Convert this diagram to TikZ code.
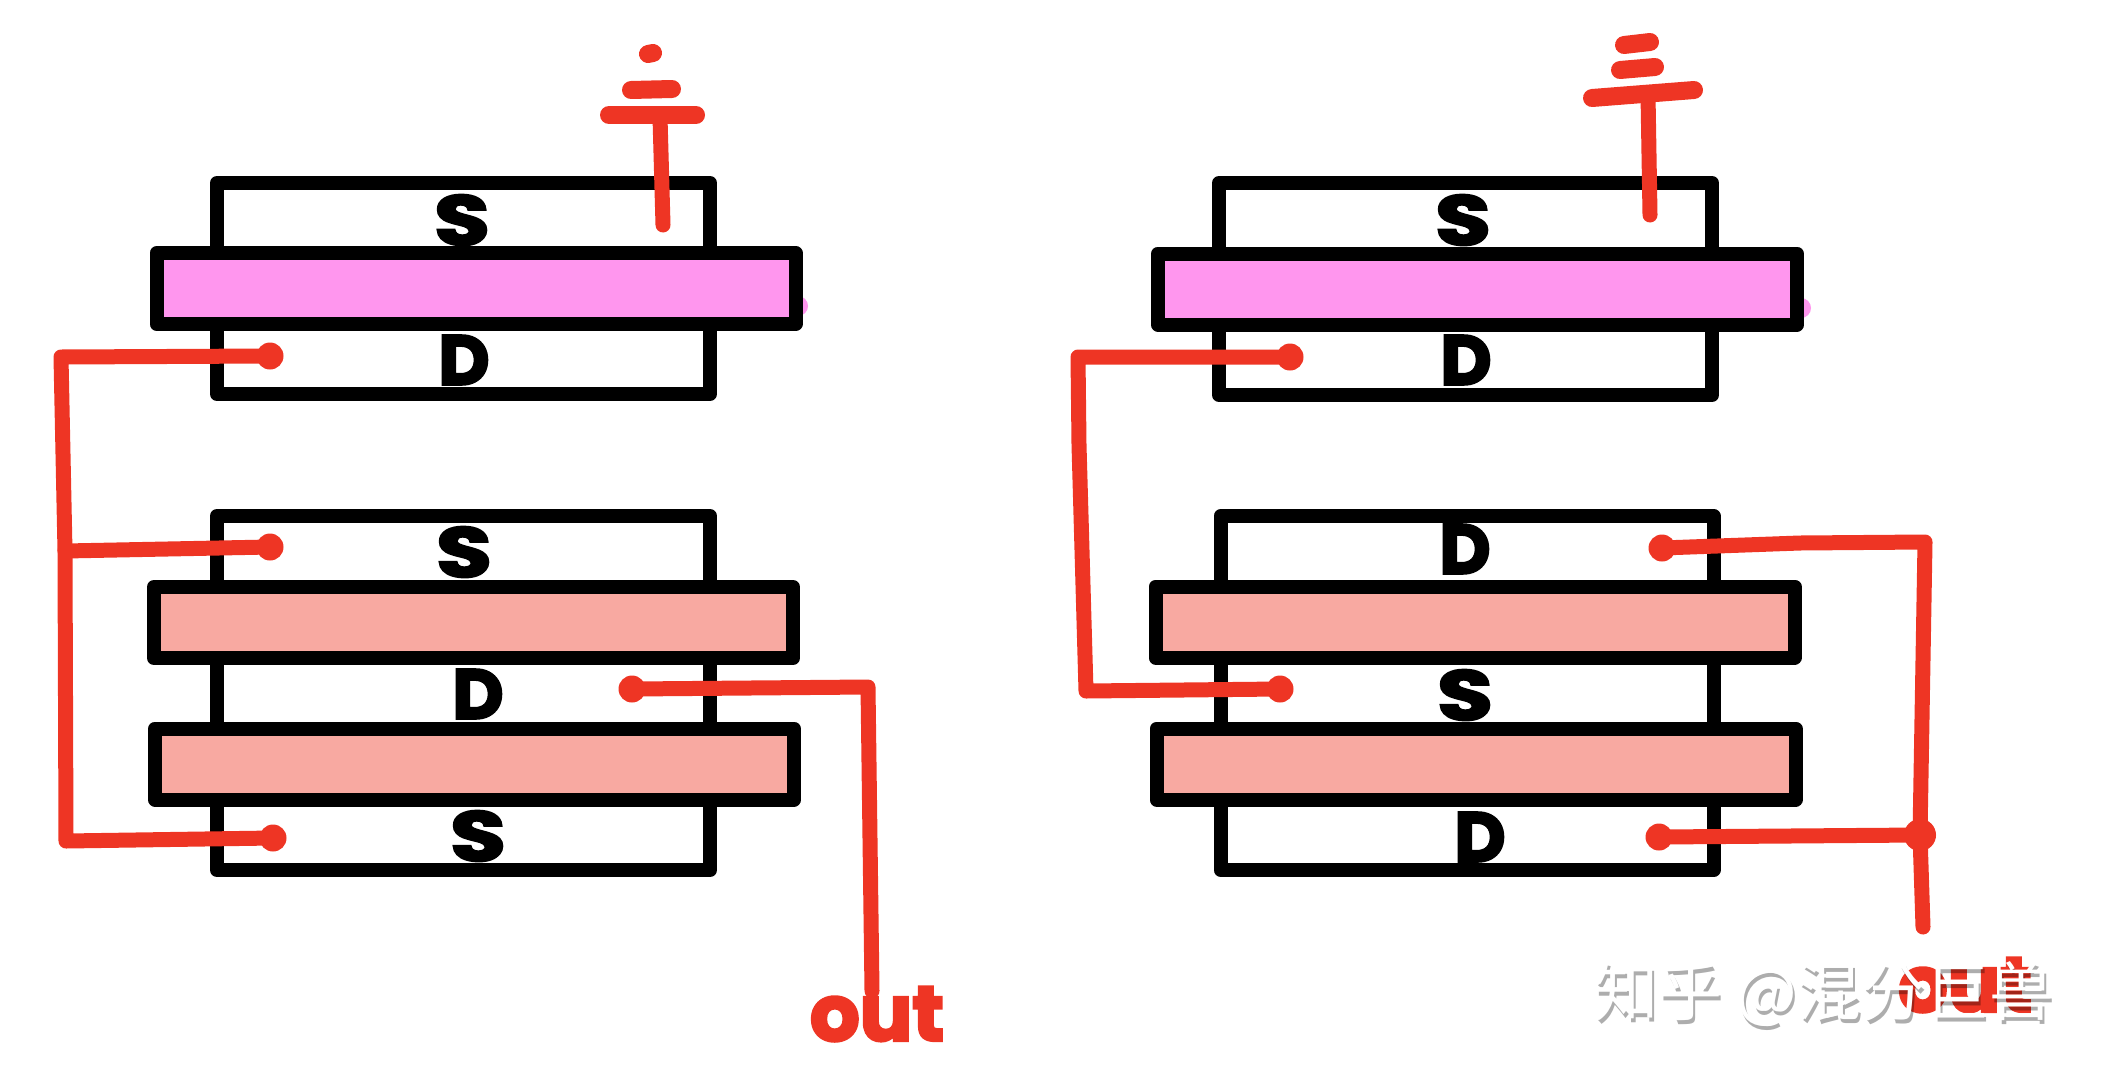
\documentclass[tikz,border=0pt]{standalone}
\usepackage{fontspec}
\newfontfamily\handfont[BoldFeatures={FakeBold=3.5}]{Poppins}
\newfontfamily\handwide[BoldFeatures={FakeBold=3.5,FakeStretch=1.3}]{Poppins}
\newfontfamily\markfont{Noto Sans CJK SC}
\definecolor{wirered}{HTML}{EE3524}
\definecolor{gatepink}{HTML}{FF96EE}
\definecolor{gatesalmon}{HTML}{F8A9A1}
\tikzset{
  well/.style={draw=black,fill=white,line width=14pt,line join=round,minimum width=493pt,inner sep=0pt},
  gatebar/.style={draw=black,line width=14pt,line join=round,minimum width=639pt,minimum height=71pt,inner sep=0pt},
  dletter/.style={font=\handfont\bfseries\fontsize{70}{70}\selectfont,inner sep=0pt,text=black},
  sletter/.style={font=\handwide\bfseries\fontsize{70}{70}\selectfont,inner sep=0pt,text=black},
  outtext/.style={font=\handfont\bfseries\fontsize{78}{78}\selectfont,inner sep=0pt,text=wirered},
  pad/.style={circle,fill=wirered,minimum size=27pt,inner sep=0pt},
  speck/.style={circle,fill=gatepink,minimum size=20pt,inner sep=0pt},
  wire/.style={draw=wirered,line width=15pt,line cap=round,line join=round},
  rail/.style={draw=wirered,line width=18pt,line cap=round,line join=round},
  markshadow/.style={font=\markfont\fontsize{64}{64}\selectfont,inner sep=0pt,text=black,text opacity=0.32},
  marktext/.style={font=\markfont\fontsize{64}{64}\selectfont,inner sep=0pt,text=white}
}
\begin{document}
\begin{tikzpicture}[x=1pt,y=-1pt]
  \useasboundingbox (0,0) rectangle (2103,1079);

  % left column
  \node (wellA) [well,minimum height=211pt] at (463.5,288.5) {};
  \node (wellB) [well,minimum height=354pt] at (463.5,693) {};
  \node (speckA) [speck] at (798,306) {};
  \node (barA) [gatebar,fill=gatepink] at (476,288.5) {};
  \node (barB) [gatebar,fill=gatesalmon] at (473.5,622.5) {};
  \node (barC) [gatebar,fill=gatesalmon] at (474.5,764) {};
  \node (sA) [sletter] at (462,220) {S};
  \node (dA) [dletter] at (464,360) {D};
  \node (sB) [sletter] at (464,552) {S};
  \node (dB) [dletter] at (478,694) {D};
  \node (sC) [sletter] at (478,836) {S};

  % right column
  \node (wellC) [well,minimum height=212pt] at (1465.5,289) {};
  \node (wellD) [well,minimum height=354pt] at (1467,693) {};
  \node (speckB) [speck] at (1801,308) {};
  \node (barD) [gatebar,fill=gatepink] at (1477.5,289) {};
  \node (barE) [gatebar,fill=gatesalmon] at (1475,622) {};
  \node (barF) [gatebar,fill=gatesalmon] at (1476,764) {};
  \node (sD) [sletter] at (1463,220) {S};
  \node (dC) [dletter] at (1466,360) {D};
  \node (dD) [dletter] at (1465,549) {D};
  \node (sE) [sletter] at (1465,695) {S};
  \node (dE) [dletter] at (1480,837) {D};

  % pads
  \node (padA) [pad] at (270,356) {};
  \node (padB) [pad] at (270,547) {};
  \node (padC) [pad] at (273,838) {};
  \node (padD) [pad] at (632,689) {};
  \node (padE) [pad] at (1290,357) {};
  \node (padF) [pad] at (1280,689) {};
  \node (padG) [pad] at (1662,548) {};
  \node (padH) [pad] at (1659,837) {};
  \node (padJ) [pad,minimum size=32pt] at (1920,835) {};

  % wire corners
  \coordinate (cornerA) at (61,357);
  \coordinate (cornerB) at (65,551);
  \coordinate (cornerC) at (66,841);
  \coordinate (cornerD) at (868,687);
  \coordinate (endD) at (872,991);
  \coordinate (cornerE) at (1078,357);
  \coordinate (bendE) at (1079,445);
  \coordinate (cornerF) at (1086,691);
  \coordinate (cornerG) at (1925,542);
  \coordinate (endG) at (1923,927);

  \draw[wire] (padA.center) -- (cornerA) -- (cornerB) -- (cornerC) -- (padC.center);
  \draw[wire] (cornerB) -- (padB.center);
  \draw[wire] (padD.center) -- (cornerD) -- (endD);
  \draw[wire] (padE.center) -- (cornerE) -- (bendE) -- (cornerF) -- (padF.center);
  \draw[wire] (padG.center) -- (1800,543) -- (cornerG) -- (padJ.center) -- (endG);
  \draw[wire] (padH.center) -- (padJ.center);

  % supply marks
  \coordinate (railA) at (609,115);
  \coordinate (railB) at (696,115);
  \coordinate (railC) at (631,90);
  \coordinate (railD) at (672,89);
  \coordinate (railE) at (648,54);
  \coordinate (railF) at (653,53);
  \coordinate (stemA) at (660,117);
  \coordinate (tailA) at (663,225);
  \coordinate (railG) at (1592,98);
  \coordinate (railH) at (1694,90);
  \coordinate (railJ) at (1620,70);
  \coordinate (railK) at (1655,67);
  \coordinate (railL) at (1624,45);
  \coordinate (railM) at (1650,42);
  \coordinate (stemB) at (1648,95);
  \coordinate (tailB) at (1650,215);
  \draw[rail] (railA) -- (railB);
  \draw[rail] (railC) -- (railD);
  \draw[rail] (railE) -- (railF);
  \draw[wire] (stemA) -- (tailA);
  \draw[rail] (railG) -- (railH);
  \draw[rail] (railJ) -- (railK);
  \draw[rail] (railL) -- (railM);
  \draw[wire] (stemB) -- (tailB);

  \node (outA) [outtext] at (877,1014) {out};
  \node (outB) [outtext] at (1965,985) {out};

  \node (markB) [markshadow] at (1826,998) {知乎 @混分巨兽};
  \node (markA) [marktext] at (1824,994) {知乎 @混分巨兽};
\end{tikzpicture}
\end{document}
